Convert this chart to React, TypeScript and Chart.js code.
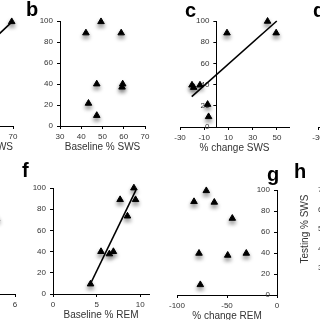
import React, { useEffect, useRef } from "react";
import { Chart, registerables } from "chart.js";

Chart.register(...registerables);

const FONT = "'Liberation Sans', Arial, Helvetica, sans-serif";
Chart.defaults.font.family = FONT;

// ---------- data ----------
const scoreTicks = [0, 20, 40, 60, 80, 100];
const swsTicks = [30, 40, 50, 60, 70];
const changeSwsTicks = [-30, -10, 10, 30, 50];
const remTicks = [0, 5, 10];
const changeRemTicks = [-100, -50, 0];
const eTicks = [0, 2, 4, 6];
const testingSwsTicks = [30, 40, 50, 60, 70];

// panel a (only its right edge is visible)
const aX = [69.4];
const aY = [99.3];
const aLineX = [50, 69.4];
const aLineY = [62, 99];

// panel b
const bX = [42.2, 49.3, 58.8, 47.3, 59.5, 59.2, 43.4, 47.3];
const bY = [88.6, 99.3, 88.6, 40, 40, 37, 21.6, 10];

// panel c
const cX = [-20.1, -18.7, -13.5, -7.2, -6.4, 8.8, 42.3, 49.4];
const cY = [39.5, 37.3, 39.5, 21.3, 9.7, 88.7, 99.7, 88.7];
const cLineX = [-20.3, 49.9];
const cLineY = [28.7, 100];

// panel e (only its right edge is visible)
const eX = [4.7];
const eY = [72];

// panel f
const fX = [4.3, 5.5, 6.46, 6.92, 7.69, 8.53, 9.27, 9.46];
const fY = [9.4, 40, 37.8, 40, 89, 73.5, 100, 89];
const fLineX = [4.2, 9.5];
const fLineY = [8, 98];

// panel g
const gX = [-83, -70.7, -62.7, -44.7, -78, -49.3, -30.7, -76.7];
const gY = [88.9, 99.3, 88.3, 73, 39.7, 37.8, 39.7, 9.8];

const zip = (xs: number[], ys: number[]) => xs.map((x, i) => ({ x, y: ys[i] }));

// ---------- layout ----------
const PAD_L = 44;
const PAD_T = 12;
const PAD_R = 12;
const PAD_B = 32;
const X_AXIS_H = 27;
const TEXT = "#333";

type PanelCfg = {
  area: { l: number; t: number; r: number; b: number };
  x: { min: number; max: number; ticks: number[]; title?: string; titleAlign?: string; hidden?: boolean };
  y: { min: number; max: number; ticks: number[]; title?: string; titlePad?: number; at?: number };
  pts: { x: number; y: number }[];
  line?: { x: number; y: number }[];
};

const shadowPlugin = {
  id: "triShadow",
  beforeDatasetDraw(chart: any, args: any) {
    if (args.index !== 0) return;
    const ctx = chart.ctx;
    ctx.save();
    ctx.shadowColor = "rgba(0,0,0,0.45)";
    ctx.shadowBlur = 4;
    ctx.shadowOffsetX = 0;
    ctx.shadowOffsetY = 3;
  },
  afterDatasetDraw(chart: any, args: any) {
    if (args.index !== 0) return;
    chart.ctx.restore();
  },
};

// moves the y axis so that it crosses the x axis at a given x value
const makeYShift = (at?: number) => ({
  id: "yShift",
  afterLayout(chart: any) {
    if (at === undefined) return;
    const ys = chart.scales.y;
    const px = chart.scales.x.getPixelForValue(at);
    const w = ys.right - ys.left;
    ys.right = px;
    ys.left = px - w;
  },
});

function ScatterPanel({ cfg }: { cfg: PanelCfg }) {
  const ref = useRef<HTMLCanvasElement>(null);
  const { l, t, r, b } = cfg.area;
  const W = r - l + PAD_L + PAD_R;
  const H = b - t + PAD_T + PAD_B;

  useEffect(() => {
    const showX = !cfg.x.hidden;
    const chart = new Chart(ref.current as HTMLCanvasElement, {
      type: "scatter",
      data: {
        datasets: [
          {
            data: cfg.pts,
            pointStyle: "triangle",
            pointRadius: 3.8,
            pointHoverRadius: 3.8,
            backgroundColor: "#000",
            borderColor: "#000",
            borderWidth: 1,
            clip: false,
          } as any,
          {
            data: cfg.line ?? [],
            showLine: true,
            pointRadius: 0,
            borderColor: "#000",
            borderWidth: 1.6,
            clip: false,
          } as any,
        ],
      },
      options: {
        responsive: false,
        animation: false,
        events: [],
        layout: {
          padding: {
            left: 0,
            top: PAD_T,
            right: PAD_R,
            bottom: showX ? PAD_B - X_AXIS_H : PAD_B,
          },
        },
        plugins: { legend: { display: false }, tooltip: { enabled: false } },
        scales: {
          x: {
            type: "linear",
            display: showX,
            min: cfg.x.min,
            max: cfg.x.max,
            afterBuildTicks: (axis: any) => {
              axis.ticks = cfg.x.ticks.map((v) => ({ value: v }));
            },
            afterFit: (s: any) => {
              s.height = X_AXIS_H;
            },
            grid: { drawOnChartArea: false, drawTicks: true, tickLength: 3, color: "#000" },
            border: { color: "#000", width: 1 },
            ticks: { autoSkip: false, maxRotation: 0, padding: 3, color: TEXT, font: { size: 8 } },
            title: {
              display: !!cfg.x.title,
              text: cfg.x.title ?? "",
              align: cfg.x.titleAlign ?? "center",
              color: TEXT,
              font: { size: 10 },
              padding: { top: 0, bottom: 0 },
            },
          },
          y: {
            type: "linear",
            position: "left",
            min: cfg.y.min,
            max: cfg.y.max,
            afterBuildTicks: (axis: any) => {
              axis.ticks = cfg.y.ticks.map((v) => ({ value: v }));
            },
            afterFit: (s: any) => {
              s.width = PAD_L;
            },
            grid: { drawOnChartArea: false, drawTicks: true, tickLength: 3, color: "#000" },
            border: { color: "#000", width: 1 },
            ticks: { autoSkip: false, padding: 4, color: TEXT, font: { size: 8 } },
            title: {
              display: !!cfg.y.title,
              text: cfg.y.title ?? "",
              color: TEXT,
              font: { size: 10 },
              padding: { top: cfg.y.titlePad ?? 0, bottom: 0 },
            },
          },
        },
      },
      plugins: [shadowPlugin, makeYShift(cfg.y.at)],
    } as any);
    return () => chart.destroy();
  }, []);

  return (
    <canvas
      ref={ref}
      width={W}
      height={H}
      style={{ position: "absolute", left: l - PAD_L, top: t - PAD_T, width: W, height: H }}
    />
  );
}

const panels: PanelCfg[] = [
  {
    area: { l: -72, t: 21, r: 13, b: 126 },
    x: { min: 30, max: 70, ticks: swsTicks, title: "Testing % SWS", titleAlign: "end" },
    y: { min: 0, max: 100, ticks: scoreTicks },
    pts: zip(aX, aY),
    line: zip(aLineX, aLineY),
  },
  {
    area: { l: 60, t: 21, r: 145, b: 126 },
    x: { min: 30, max: 70, ticks: swsTicks, title: "Baseline % SWS" },
    y: { min: 0, max: 100, ticks: scoreTicks },
    pts: zip(bX, bY),
  },
  {
    area: { l: 180, t: 21, r: 289, b: 127 },
    x: { min: -30, max: 60, ticks: changeSwsTicks, title: "% change SWS" },
    y: { min: 0, max: 100, ticks: scoreTicks, at: 0 },
    pts: zip(cX, cY),
    line: zip(cLineX, cLineY),
  },
  {
    area: { l: 318, t: 21, r: 427, b: 127 },
    x: { min: -30, max: 60, ticks: changeSwsTicks },
    y: { min: 0, max: 100, ticks: scoreTicks, at: 0 },
    pts: [],
  },
  {
    area: { l: -70, t: 189, r: 15, b: 294 },
    x: { min: 0, max: 6, ticks: eTicks },
    y: { min: 0, max: 100, ticks: scoreTicks },
    pts: zip(eX, eY),
  },
  {
    area: { l: 53, t: 188, r: 149, b: 294 },
    x: { min: 0, max: 11, ticks: remTicks, title: "Baseline % REM" },
    y: { min: 0, max: 100, ticks: scoreTicks },
    pts: zip(fX, fY),
    line: zip(fLineX, fLineY),
  },
  {
    area: { l: 177, t: 190, r: 277, b: 295 },
    x: { min: -100, max: 0, ticks: changeRemTicks, title: "% change REM" },
    y: { min: 0, max: 100, ticks: scoreTicks, at: 0 },
    pts: zip(gX, gY),
  },
  {
    area: { l: 334, t: 190, r: 420, b: 295 },
    x: { min: 0, max: 10, ticks: [], hidden: true },
    y: { min: 30, max: 70, ticks: testingSwsTicks, title: "Testing % SWS", titlePad: 9 },
    pts: [],
  },
];

const letters = [
  { text: "b", left: 26, top: -1 },
  { text: "c", left: 185, top: 0 },
  { text: "d", left: 313, top: 0 },
  { text: "f", left: 22, top: 160 },
  { text: "g", left: 267, top: 164 },
  { text: "h", left: 294, top: 161 },
];

export default function App() {
  return (
    <div
      style={{
        position: "fixed",
        left: 0,
        top: 0,
        width: 320,
        height: 320,
        overflow: "hidden",
        background: "#fff",
      }}
    >
      {panels.map((p, i) => (
        <ScatterPanel key={i} cfg={p} />
      ))}
      {letters.map((L) => (
        <div
          key={L.text}
          style={{
            position: "absolute",
            left: L.left,
            top: L.top,
            font: `bold 20px ${FONT}`,
            lineHeight: "20px",
            color: "#000",
          }}
        >
          {L.text}
        </div>
      ))}
    </div>
  );
}
